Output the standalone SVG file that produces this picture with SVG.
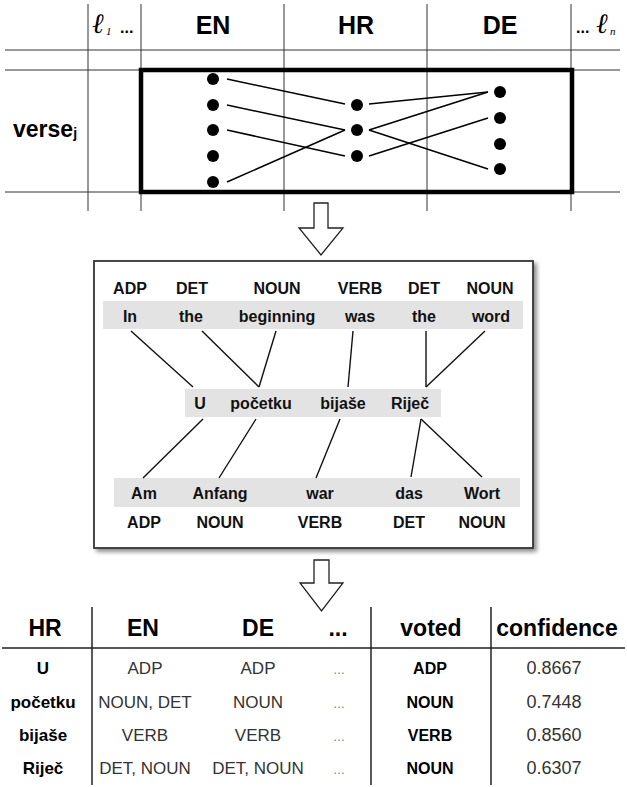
<svg xmlns="http://www.w3.org/2000/svg" width="627" height="787" viewBox="0 0 627 787">
<style>
.grid{stroke:#333;stroke-width:1;fill:none}
.hdr{font-family:"Liberation Sans",Arial,sans-serif;font-weight:bold;font-size:25px;fill:#000;text-anchor:middle}
.dot{fill:#000}
.al{stroke:#000;stroke-width:1.5;fill:none}
.pos{font-family:"Liberation Sans",Arial,sans-serif;font-weight:bold;font-size:16px;fill:#111;text-anchor:middle}
.band{fill:#e3e3e3}
.ln{stroke:#111;stroke-width:1.4;fill:none}
.th{font-family:"Liberation Sans",Arial,sans-serif;font-weight:bold;font-size:23px;fill:#000;text-anchor:middle}
.rb{font-family:"Liberation Sans",Arial,sans-serif;font-weight:bold;font-size:16px;fill:#000;text-anchor:middle}
.rh{font-family:"Liberation Sans",Arial,sans-serif;font-weight:bold;font-size:17px;fill:#000;text-anchor:middle}
.rv{font-family:"Liberation Sans",Arial,sans-serif;font-size:17px;fill:#333;text-anchor:middle}
.rn{font-family:"Liberation Sans",Arial,sans-serif;font-size:18px;fill:#333;text-anchor:middle}
.rd{font-family:"Liberation Sans",Arial,sans-serif;font-size:12px;fill:#777;text-anchor:middle}
.arrow{fill:#fff;stroke:#222;stroke-width:1.3}
.tl{stroke:#222;stroke-width:1.5}
.ell{font-family:"Liberation Serif","DejaVu Serif",serif;font-style:italic;font-size:28px;fill:#000}
.sub{font-family:"Liberation Serif","DejaVu Serif",serif;font-style:italic;font-size:11px;fill:#000}
.dots3{font-family:"Liberation Sans",Arial,sans-serif;font-weight:bold;font-size:16px;fill:#000}
</style>
<defs>
<filter id="sh" x="-5%" y="-5%" width="115%" height="115%">
<feDropShadow dx="3" dy="3" stdDeviation="2" flood-color="#000" flood-opacity="0.45"/>
</filter>
</defs>

<g id="top-grid">
<line class="grid" x1="88" y1="4" x2="88" y2="211"/>
<line class="grid" x1="141" y1="4" x2="141" y2="211"/>
<line class="grid" x1="284" y1="4" x2="284" y2="211"/>
<line class="grid" x1="427" y1="4" x2="427" y2="211"/>
<line class="grid" x1="571" y1="4" x2="571" y2="211"/>
<line class="grid" x1="5" y1="50" x2="620" y2="50"/>
<line class="grid" x1="5" y1="70" x2="620" y2="70"/>
<line class="grid" x1="5" y1="192" x2="620" y2="192"/>
<text class="ell" x="92" y="33">ℓ</text>
<text class="sub" x="106" y="35">1</text>
<text class="dots3" x="120" y="33">...</text>
<text class="hdr" x="213" y="34">EN</text>
<text class="hdr" x="356" y="34">HR</text>
<text class="hdr" x="500" y="34">DE</text>
<text class="dots3" x="576" y="33">...</text>
<text class="ell" x="596" y="33">ℓ</text>
<text class="sub" x="610" y="35">n</text>
<text x="13" y="137" font-family="Liberation Sans,Arial,sans-serif" font-weight="bold" font-size="23">verse<tspan font-size="14" dy="1">j</tspan></text>
</g>

<g id="verse-box">
<rect x="141" y="70" width="431" height="122" fill="none" stroke="#000" stroke-width="4.5"/>
</g>

<g id="dots">
<circle class="dot" cx="213" cy="79" r="6"/>
<circle class="dot" cx="213" cy="105" r="6"/>
<circle class="dot" cx="213" cy="130" r="6"/>
<circle class="dot" cx="213" cy="156" r="6"/>
<circle class="dot" cx="213" cy="182" r="6"/>
<circle class="dot" cx="357" cy="105" r="6"/>
<circle class="dot" cx="357" cy="130" r="6"/>
<circle class="dot" cx="357" cy="156" r="6"/>
<circle class="dot" cx="500" cy="92" r="6"/>
<circle class="dot" cx="500" cy="118" r="6"/>
<circle class="dot" cx="500" cy="144" r="6"/>
<circle class="dot" cx="500" cy="169" r="6"/>
</g>

<g id="dot-links">
<line class="al" x1="227" y1="79" x2="345" y2="104"/>
<line class="al" x1="227" y1="105" x2="345" y2="130"/>
<line class="al" x1="227" y1="130" x2="345" y2="156"/>
<line class="al" x1="227" y1="182" x2="345" y2="130"/>
<line class="al" x1="369" y1="104" x2="488" y2="92"/>
<line class="al" x1="369" y1="130" x2="488" y2="92"/>
<line class="al" x1="369" y1="130" x2="488" y2="169"/>
<line class="al" x1="369" y1="156" x2="488" y2="118"/>
</g>

<g id="arrow1">
<path class="arrow" d="M314,203 H328 V228 H343 L321,255 L299,228 H314 Z"/>
</g>

<g id="alignment-box">
<rect x="94" y="261" width="439" height="287" fill="#fff" stroke="#333" stroke-width="1.8" filter="url(#sh)"/>
<rect class="band" x="103" y="301" width="420" height="28"/>
<rect class="band" x="185" y="389" width="256" height="28"/>
<rect class="band" x="114" y="478" width="406" height="29"/>
<g id="en-pos">
<text class="pos" x="130" y="294">ADP</text>
<text class="pos" x="192" y="294">DET</text>
<text class="pos" x="277" y="294">NOUN</text>
<text class="pos" x="360" y="294">VERB</text>
<text class="pos" x="424" y="294">DET</text>
<text class="pos" x="490" y="294">NOUN</text>
</g>
<g id="en-words">
<text class="pos" x="130" y="322">In</text>
<text class="pos" x="191" y="322">the</text>
<text class="pos" x="277" y="322">beginning</text>
<text class="pos" x="360" y="322">was</text>
<text class="pos" x="424" y="322">the</text>
<text class="pos" x="491" y="322">word</text>
</g>
<g id="hr-words">
<text class="pos" x="200" y="409">U</text>
<text class="pos" x="261" y="409">početku</text>
<text class="pos" x="343" y="409">bijaše</text>
<text class="pos" x="410" y="409">Riječ</text>
</g>
<g id="de-words">
<text class="pos" x="144" y="499">Am</text>
<text class="pos" x="220" y="499">Anfang</text>
<text class="pos" x="320" y="499">war</text>
<text class="pos" x="409" y="499">das</text>
<text class="pos" x="482" y="499">Wort</text>
</g>
<g id="de-pos">
<text class="pos" x="144" y="528">ADP</text>
<text class="pos" x="220" y="528">NOUN</text>
<text class="pos" x="320" y="528">VERB</text>
<text class="pos" x="409" y="528">DET</text>
<text class="pos" x="482" y="528">NOUN</text>
</g>
</g>

<g id="word-links">
<line class="ln" x1="131" y1="331" x2="193" y2="387"/>
<line class="ln" x1="202" y1="331" x2="259" y2="387"/>
<line class="ln" x1="276" y1="331" x2="259" y2="387"/>
<line class="ln" x1="353" y1="331" x2="348" y2="387"/>
<line class="ln" x1="426" y1="331" x2="426" y2="387"/>
<line class="ln" x1="485" y1="331" x2="426" y2="387"/>
<line class="ln" x1="203" y1="419" x2="143" y2="478"/>
<line class="ln" x1="256" y1="419" x2="219" y2="478"/>
<line class="ln" x1="340" y1="419" x2="316" y2="478"/>
<line class="ln" x1="421" y1="419" x2="411" y2="477"/>
<line class="ln" x1="421" y1="419" x2="482" y2="477"/>
</g>

<g id="arrow2">
<path class="arrow" d="M314,560 H329 V583 H343 L321.5,611 L300,583 H314 Z"/>
</g>

<g id="result-table">
<line class="tl" x1="92" y1="607" x2="92" y2="785"/>
<line class="tl" x1="371" y1="607" x2="371" y2="785"/>
<line class="tl" x1="491" y1="607" x2="491" y2="785"/>
<line class="tl" x1="2" y1="648" x2="625" y2="648"/>
<text class="th" x="45" y="636">HR</text>
<text class="th" x="143" y="636">EN</text>
<text class="th" x="258" y="636">DE</text>
<text class="th" x="338" y="636">...</text>
<text class="th" x="431" y="636">voted</text>
<text class="th" x="557" y="636">confidence</text>

<text class="rh" x="43" y="674">U</text>
<text class="rh" x="43" y="708">početku</text>
<text class="rh" x="43" y="741">bijaše</text>
<text class="rh" x="43" y="774">Riječ</text>

<text class="rv" x="145" y="674">ADP</text>
<text class="rv" x="145" y="708">NOUN, DET</text>
<text class="rv" x="145" y="741">VERB</text>
<text class="rv" x="145" y="774">DET, NOUN</text>

<text class="rv" x="258" y="674">ADP</text>
<text class="rv" x="258" y="708">NOUN</text>
<text class="rv" x="258" y="741">VERB</text>
<text class="rv" x="258" y="774">DET, NOUN</text>

<text class="rd" x="339" y="674">…</text>
<text class="rd" x="339" y="708">…</text>
<text class="rd" x="339" y="741">…</text>
<text class="rd" x="339" y="774">…</text>

<text class="rb" x="430" y="674">ADP</text>
<text class="rb" x="430" y="708">NOUN</text>
<text class="rb" x="430" y="741">VERB</text>
<text class="rb" x="430" y="774">NOUN</text>

<text class="rn" x="554" y="674">0.8667</text>
<text class="rn" x="554" y="708">0.7448</text>
<text class="rn" x="554" y="741">0.8560</text>
<text class="rn" x="554" y="774">0.6307</text>
</g>
</svg>
